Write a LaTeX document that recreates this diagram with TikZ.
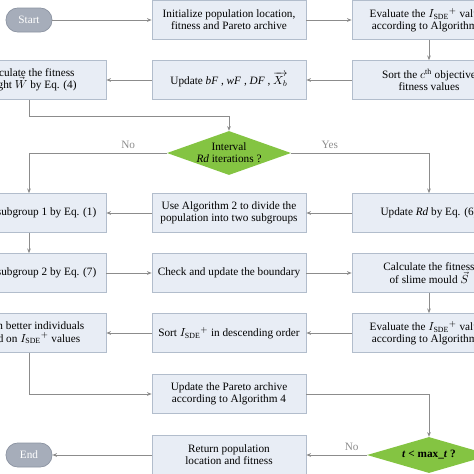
\documentclass[tikz,border=0pt]{standalone}
\usepackage{amsmath,amssymb}
\usepackage{fontspec}
\setmainfont{Liberation Serif}
\usetikzlibrary{shapes.geometric,arrows.meta}
\definecolor{boxfill}{RGB}{232,237,245}
\definecolor{boxline}{RGB}{178,189,204}
\definecolor{pillfill}{RGB}{166,173,186}
\definecolor{pillline}{RGB}{140,148,162}
\definecolor{condfill}{RGB}{132,196,66}
\definecolor{flowline}{RGB}{140,140,140}
\newcommand{\Isde}{$I_{\mathrm{SDE}}{}^{+}$}
\begin{document}
\begin{tikzpicture}[
  every node/.style={font=\fontsize{9.6}{10.4}\selectfont, align=center},
  stepbox/.style={draw=boxline, fill=boxfill, line width=0.6pt,
                  minimum width=4.62cm, minimum height=1.17cm, inner sep=2pt},
  term/.style={draw=pillline, fill=pillfill, line width=0.6pt, text=white,
               rounded corners=0.35cm, minimum width=1.38cm, minimum height=0.72cm},
  cond/.style={draw=none, fill=condfill, shape=diamond, inner sep=0pt},
  lbl/.style={text=flowline, draw=none},
  arr/.style={draw=flowline, line width=0.8pt, -{Stealth[length=4pt,width=3.2pt]}}
]
\useasboundingbox (0,0) rectangle (14.22,-14.22);
\clip (0,0) rectangle (14.22,-14.22);
\node[term] (start) at (0.87,-0.6) {Start};
\node[stepbox] (init) at (6.87,-0.6) {Initialize population location,\\fitness and Pareto archive};
\node[stepbox] (evalA) at (12.87,-0.6) {Evaluate the \Isde{} values\\according to Algorithm 3};
\node[stepbox] (sortc) at (12.87,-2.4) {Sort the $c^{\mathrm{th}}$ objective\\fitness values};
\node[stepbox] (updbF) at (6.87,-2.4) {Update \textit{bF} , \textit{wF} , \textit{DF} , $\overrightarrow{X_b}$};
\node[stepbox] (weight) at (0.87,-2.4) {Calculate the fitness\\weight $\vec{W}$ by Eq. (4)};
\node[cond, minimum width=3.72cm, minimum height=1.32cm,
      label={[align=center]center:Interval\\\textit{Rd} iterations ?}] (rdint) at (6.87,-4.59) {};
\node[stepbox] (sub1) at (0.87,-6.39) {Update subgroup 1 by Eq. (1)};
\node[stepbox] (divide) at (6.87,-6.39) {Use Algorithm 2 to divide the\\population into two subgroups};
\node[stepbox] (updRd) at (12.87,-6.39) {Update \textit{Rd} by Eq. (6)};
\node[stepbox] (sub2) at (0.87,-8.19) {Update subgroup 2 by Eq. (7)};
\node[stepbox] (bound) at (6.87,-8.19) {Check and update the boundary};
\node[stepbox] (fitS) at (12.87,-8.19) {Calculate the fitness\\of slime mould $\vec{S}$};
\node[stepbox] (evalB) at (12.87,-9.99) {Evaluate the \Isde{} values\\according to Algorithm 3};
\node[stepbox] (sortI) at (6.87,-9.99) {Sort \Isde{} in descending order};
\node[stepbox] (better) at (0.87,-9.99) {Retain better individuals\\based on \Isde{} values};
\node[stepbox] (pareto) at (6.87,-11.82) {Update the Pareto archive\\according to Algorithm 4};
\node[cond, minimum width=3.72cm, minimum height=1.08cm,
      label={[font=\fontsize{9.6}{10.4}\selectfont\bfseries]center:\textit{t} < max\_\textit{t} ?}] (tmax) at (12.87,-13.65) {};
\node[stepbox] (ret) at (6.87,-13.65) {Return population\\location and fitness};
\node[term] (end) at (0.87,-13.65) {End};
\draw[arr] (start) -- (init);
\draw[arr] (init) -- (evalA);
\draw[arr] (evalA) -- (sortc);
\draw[arr] (sortc) -- (updbF);
\draw[arr] (updbF) -- (weight);
\draw[arr] (weight.south) -- ++(0,-0.51) -| (rdint.north);
\draw[arr] (rdint.west) -| node[lbl, pos=0.14, above] {No} (sub1.north);
\draw[arr] (rdint.east) -| node[lbl, pos=0.14, above] {Yes} (updRd.north);
\draw[arr] (updRd) -- (divide);
\draw[arr] (divide) -- (sub1);
\draw[arr] (sub1) -- (sub2);
\draw[arr] (sub2) -- (bound);
\draw[arr] (bound) -- (fitS);
\draw[arr] (fitS) -- (evalB);
\draw[arr] (evalB) -- (sortI);
\draw[arr] (sortI) -- (better);
\draw[arr] (better.south) |- (pareto.west);
\draw[arr] (pareto.east) -| (tmax.north);
\draw[arr] (tmax.west) -- node[lbl, pos=0.25, above] {No} (ret.east);
\draw[arr] (ret) -- (end);
\end{tikzpicture}
\end{document}
